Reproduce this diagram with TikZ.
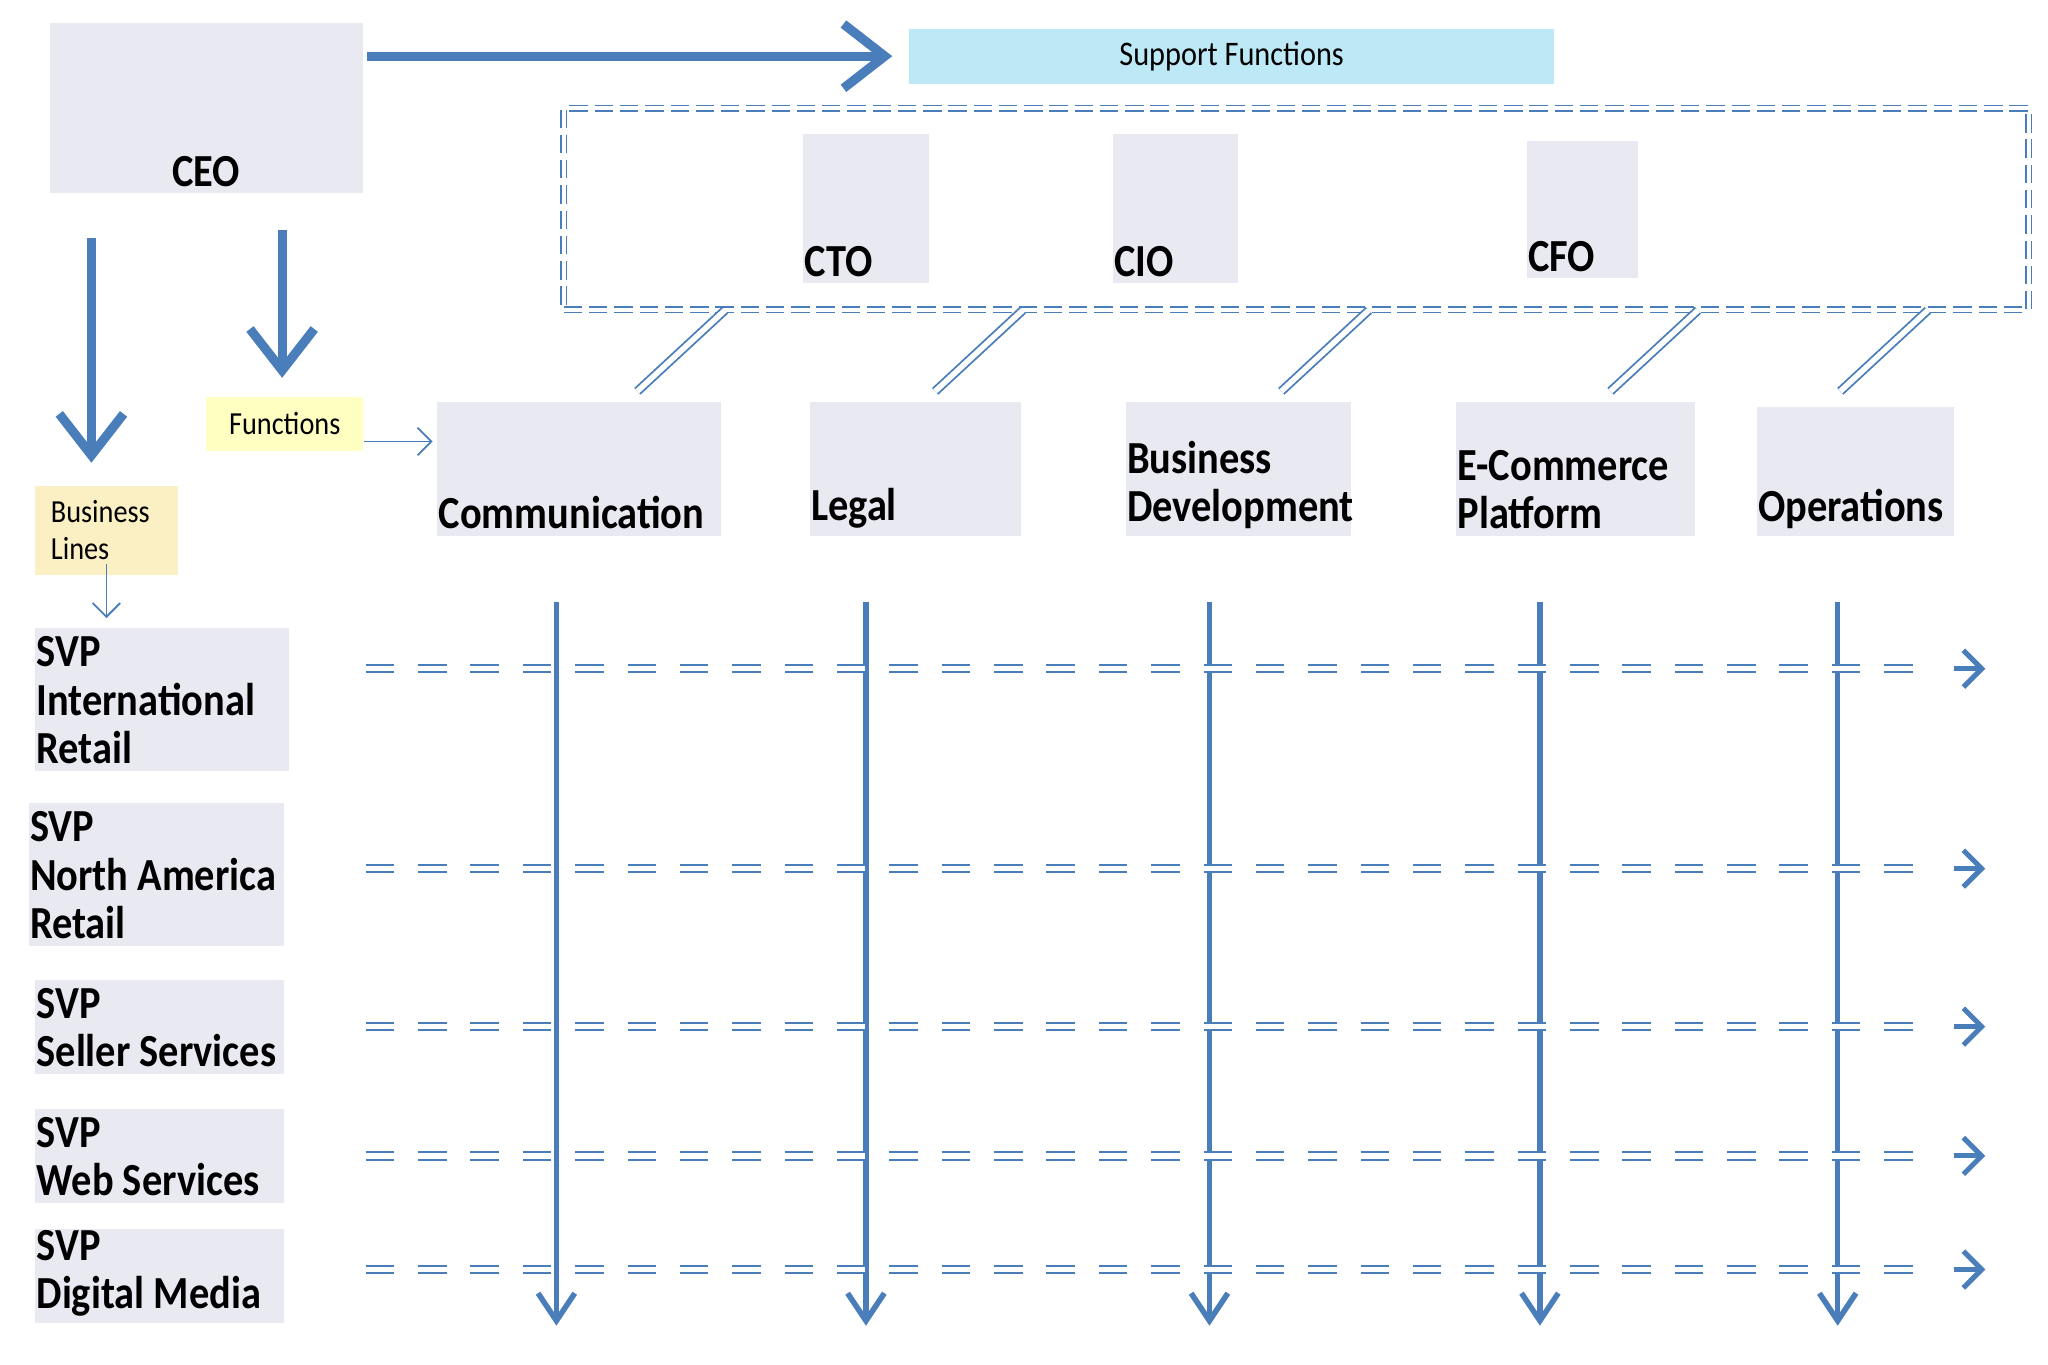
\documentclass[tikz,border=0pt]{standalone}
\usepackage{fontspec}
\setmainfont{Carlito}[FakeStretch=0.88]
\usetikzlibrary{arrows.meta,positioning}
\definecolor{lineblue}{HTML}{4A7EBB}
\definecolor{boxgray}{HTML}{E9E9F1}
\definecolor{supportblue}{HTML}{BDE9F7}
\definecolor{funcyellow}{HTML}{FFFFC2}
\definecolor{lineyellow}{HTML}{FBF0C4}
\tikzset{
  box/.style={rectangle, fill=boxgray, inner sep=0pt},
  boxtext/.style={font=\fontsize{10}{10.5}\selectfont\bfseries, align=left, inner xsep=0.3pt, inner ysep=1.5pt},
  tag/.style={rectangle, inner sep=0pt, font=\fontsize{7}{8}\selectfont},
  bigarrow/.style={draw=lineblue, line width=2pt, -{Straight Barb[length=9pt,width=14pt,line width=2pt]}},
  downarrow/.style={draw=lineblue, line width=1.2pt, -{Straight Barb[length=6pt,width=8pt,line width=1.2pt]}},
  thinarrow/.style={draw=lineblue, line width=0.4pt, -{Straight Barb[length=3pt,width=6pt]}},
  doubleline/.style={draw=lineblue, double=white, double distance=1.2pt, line width=0.4pt},
  tipline/.style={draw=lineblue, line width=1.1pt, -{Straight Barb[length=4pt,width=8pt,line width=1.1pt]}}
}
\begin{document}
\begin{tikzpicture}[x=0.01cm, y=-0.01cm]
  \useasboundingbox (0,0) rectangle (1568,1045);

  % top level
  \node[box, minimum width=2.40cm, minimum height=1.30cm,
        label={[boxtext, anchor=south]south:CEO}] (ceo) at (158,83) {};
  \node[tag, fill=supportblue, minimum width=4.94cm, minimum height=0.42cm,
        font=\fontsize{7.5}{9}\selectfont] (support) at (943,43) {Support Functions};
  \node[draw=lineblue, double=white, double distance=0.9pt, line width=0.3pt,
        dash pattern=on 4pt off 1.5pt, minimum width=11.21cm, minimum height=1.54cm] (group) at (992.5,160) {};

  % support functions
  \node[box, minimum width=0.96cm, minimum height=1.14cm,
        label={[boxtext, anchor=south west]south west:CTO}] (cto) at (663,160) {};
  \node[box, minimum width=0.96cm, minimum height=1.14cm,
        label={[boxtext, anchor=south west]south west:CIO}] (cio) at (900,160) {};
  \node[box, minimum width=0.85cm, minimum height=1.05cm,
        label={[boxtext, anchor=south west]south west:CFO}] (cfo) at (1211.5,160.5) {};

  % functions
  \node[box, minimum width=2.17cm, minimum height=1.02cm,
        label={[boxtext, anchor=south west]south west:Communication}] (comm) at (443.5,359) {};
  \node[box, minimum width=1.62cm, minimum height=1.02cm,
        label={[boxtext, anchor=south west]south west:Legal}] (legal) at (701,359) {};
  \node[box, minimum width=1.72cm, minimum height=1.02cm,
        label={[boxtext, anchor=south west]south west:Business\\Development}] (busdev) at (948,359) {};
  \node[box, minimum width=1.83cm, minimum height=1.02cm,
        label={[boxtext, anchor=south west]south west:E-Commerce\\Platform}] (ecom) at (1206.5,359) {};
  \node[box, minimum width=1.51cm, minimum height=0.98cm,
        label={[boxtext, anchor=south west]south west:Operations}] (ops) at (1420.5,361) {};

  % tags
  \node[tag, fill=funcyellow, minimum width=1.20cm, minimum height=0.41cm] (functions) at (218,324.5) {Functions};
  \node[tag, fill=lineyellow, minimum width=1.09cm, minimum height=0.68cm,
        align=left, text width=0.85cm] (blines) at (81.5,406) {Business\\Lines};

  % business lines
  \node[box, minimum width=1.94cm, minimum height=1.09cm,
        label={[boxtext, anchor=south west]south west:SVP\\International\\Retail}] (intl) at (124,535.5) {};
  \node[box, minimum width=1.95cm, minimum height=1.09cm,
        label={[boxtext, anchor=south west]south west:SVP\\North America\\Retail}] (namer) at (119.5,669.5) {};
  \node[box, minimum width=1.90cm, minimum height=0.72cm,
        label={[boxtext, anchor=south west]south west:SVP\\Seller Services}] (seller) at (122,786) {};
  \node[box, minimum width=1.90cm, minimum height=0.72cm,
        label={[boxtext, anchor=south west]south west:SVP\\Web Services}] (web) at (122,885) {};
  \node[box, minimum width=1.90cm, minimum height=0.72cm,
        label={[boxtext, anchor=south west]south west:SVP\\Digital Media}] (digital) at (122,977) {};

  % top arrows
  \draw[bigarrow] ([xshift=0.02cm]ceo.east |- support) -- ([xshift=-0.12cm]support.west);
  \coordinate (linestart) at (70,182);
  \coordinate (funcstart) at (216,176);
  \draw[bigarrow] (linestart) -- ([yshift=0.17cm]blines.north -| linestart);
  \draw[bigarrow] (funcstart) -- ([yshift=0.14cm]functions.north -| funcstart);
  \draw[thinarrow] (functions.east |- 0,338) -- ([xshift=-0.03cm]comm.west |- 0,338);
  \draw[thinarrow] (blines.south |- 0,432) -- ([yshift=0.07cm]intl.north -| blines.south);

  % group to functions
  \foreach \f/\x in {comm/555, legal/783, busdev/1048, ecom/1300, ops/1476}
    \draw[doubleline] (group.south -| \x,0) -- ++(-67,62);

  % matrix lines
  \foreach \f/\x in {comm/426, legal/663, busdev/926, ecom/1179, ops/1407} {
    \coordinate (top-\f) at (\x,461);
    \draw[downarrow] (top-\f) -- (\x,1015);
  }
  \foreach \b/\y in {intl/512, namer/665, seller/786, web/885, digital/972} {
    \coordinate (end-\b) at (1520,\y);
    \draw[doubleline, dash pattern=on 6.2pt off 5.2pt] (280,\y) -- (1482,\y);
    \draw[tipline] (end-\b) ++(-24,0) -- (end-\b);
  }
\end{tikzpicture}
\end{document}
